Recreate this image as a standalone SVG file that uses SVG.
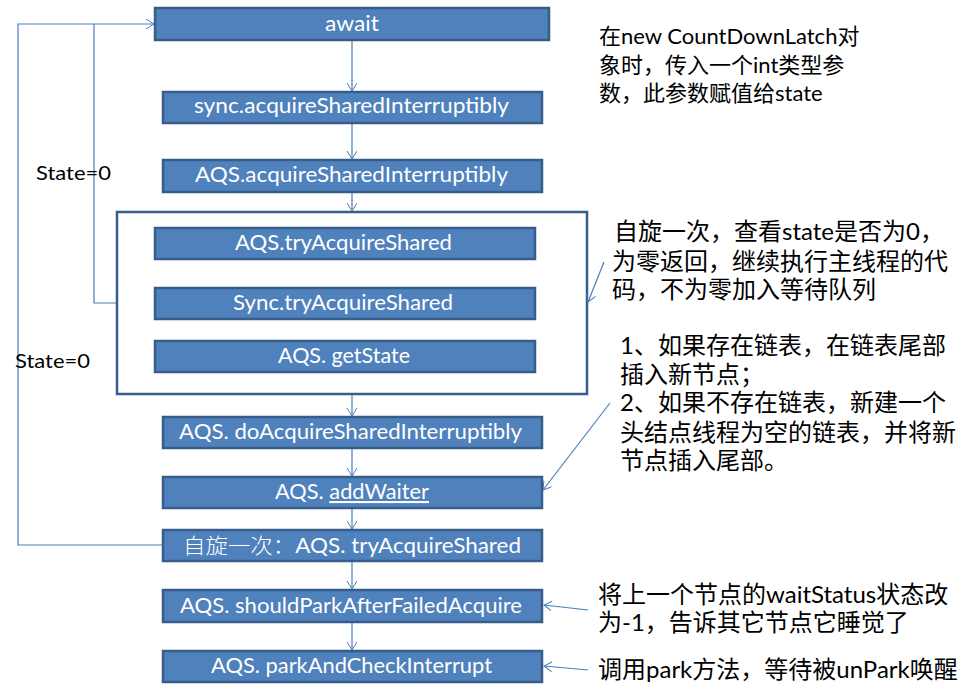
<svg xmlns="http://www.w3.org/2000/svg" width="970" height="691" viewBox="0 0 970 691">
<defs>
<marker id="arr" markerUnits="userSpaceOnUse" markerWidth="12" markerHeight="12" refX="8" refY="5" orient="auto">
<path d="M0,0 L8,5 L0,10" fill="none" stroke="#4a7ebb" stroke-width="1"/>
</marker>
</defs>
<style>
.box{fill:#4f81bd;stroke:#385d8a;stroke-width:2.5}
.frame{fill:#ffffff;stroke:#385d8a;stroke-width:2.5}
.bt{font-family:"Lato","Noto Sans CJK SC",sans-serif;font-size:21px;fill:#ffffff}
.cjkw{font-family:"Noto Sans CJK SC",sans-serif;font-weight:300}
.lbl{font-family:"Lato","Noto Sans CJK SC",sans-serif;font-size:20px;fill:#000000}
.note{font-family:"Lato","Noto Sans CJK SC",sans-serif;font-size:24px;fill:#000000}
.note1{font-family:"Lato","Noto Sans CJK SC",sans-serif;font-size:22px;fill:#000000}
.con{fill:none;stroke:#4a7ebb;stroke-width:1.2}
</style>
<rect width="970" height="691" fill="#ffffff"/>

<g id="frame">
<rect class="frame" x="117" y="212" width="470" height="182"/>
</g>

<g id="connectors">
<line class="con" x1="352" y1="41" x2="352" y2="91" marker-end="url(#arr)"/>
<line class="con" x1="352" y1="124" x2="352" y2="159" marker-end="url(#arr)"/>
<line class="con" x1="352" y1="193" x2="352" y2="211" marker-end="url(#arr)"/>
<line class="con" x1="352" y1="395" x2="352" y2="416" marker-end="url(#arr)"/>
<line class="con" x1="352" y1="449" x2="352" y2="476" marker-end="url(#arr)"/>
<line class="con" x1="352" y1="509" x2="352" y2="529" marker-end="url(#arr)"/>
<line class="con" x1="352" y1="562" x2="352" y2="589" marker-end="url(#arr)"/>
<line class="con" x1="352" y1="623" x2="352" y2="650" marker-end="url(#arr)"/>
<polyline class="con" points="162,545 18,545 18,24 154,24" marker-end="url(#arr)"/>
<polyline class="con" points="116,303 94,303 94,24"/>
<line class="con" x1="604" y1="262" x2="588" y2="302" marker-end="url(#arr)"/>
<line class="con" x1="610" y1="403" x2="543" y2="490" marker-end="url(#arr)"/>
<line class="con" x1="588" y1="610" x2="544" y2="605" marker-end="url(#arr)"/>
<line class="con" x1="588" y1="670" x2="544" y2="666" marker-end="url(#arr)"/>
</g>

<g id="n-await">
<rect class="box" x="155" y="8" width="394" height="32"/>
<text class="bt" x="325" y="31" textLength="54" lengthAdjust="spacingAndGlyphs">await</text>
</g>
<g id="n-sync-acquire">
<rect class="box" x="163" y="92" width="379" height="31"/>
<text class="bt" x="194" y="113" textLength="315" lengthAdjust="spacingAndGlyphs">sync.acquireSharedInterruptibly</text>
</g>
<g id="n-aqs-acquire">
<rect class="box" x="163" y="160" width="379" height="32"/>
<text class="bt" x="195" y="182" textLength="313" lengthAdjust="spacingAndGlyphs">AQS.acquireSharedInterruptibly</text>
</g>
<g id="n-aqs-try">
<rect class="box" x="155" y="228" width="380" height="31"/>
<text class="bt" x="235" y="250" textLength="217" lengthAdjust="spacingAndGlyphs">AQS.tryAcquireShared</text>
</g>
<g id="n-sync-try">
<rect class="box" x="155" y="288" width="380" height="31"/>
<text class="bt" x="233" y="310" textLength="220" lengthAdjust="spacingAndGlyphs">Sync.tryAcquireShared</text>
</g>
<g id="n-getstate">
<rect class="box" x="155" y="341" width="380" height="31"/>
<text class="bt" x="278" y="363" textLength="132" lengthAdjust="spacingAndGlyphs">AQS. getState</text>
</g>
<g id="n-doacquire">
<rect class="box" x="163" y="417" width="379" height="31"/>
<text class="bt" x="179" y="439" textLength="343" lengthAdjust="spacingAndGlyphs">AQS. doAcquireSharedInterruptibly</text>
</g>
<g id="n-addwaiter">
<rect class="box" x="163" y="477" width="379" height="31"/>
<text class="bt" x="275" y="499" textLength="154" lengthAdjust="spacingAndGlyphs">AQS. <tspan text-decoration="underline">addWaiter</tspan></text>
</g>
<g id="n-spin">
<rect class="box" x="163" y="530" width="379" height="31"/>
<text class="bt" x="183" y="553" textLength="338" lengthAdjust="spacingAndGlyphs"><tspan class="cjkw">自旋一次：</tspan>AQS. tryAcquireShared</text>
</g>
<g id="n-shouldpark">
<rect class="box" x="163" y="590" width="379" height="32"/>
<text class="bt" x="180" y="613" textLength="342" lengthAdjust="spacingAndGlyphs">AQS. shouldParkAfterFailedAcquire</text>
</g>
<g id="n-park">
<rect class="box" x="163" y="651" width="379" height="31"/>
<text class="bt" x="211" y="673" textLength="281" lengthAdjust="spacingAndGlyphs">AQS. parkAndCheckInterrupt</text>
</g>

<g id="labels">
<text class="lbl" x="36" y="180" textLength="75" lengthAdjust="spacingAndGlyphs">State=0</text>
<text class="lbl" x="15" y="368" textLength="75" lengthAdjust="spacingAndGlyphs">State=0</text>
</g>

<g id="note-init">
<text class="note1" x="599" y="44">在new CountDownLatch对</text>
<text class="note1" x="599" y="73">象时，传入一个int类型参</text>
<text class="note1" x="599" y="101">数，此参数赋值给state</text>
</g>
<g id="note-spin">
<text class="note" x="614" y="240">自旋一次，查看state是否为0，</text>
<text class="note" x="612" y="270">为零返回，继续执行主线程的代</text>
<text class="note" x="612" y="298">码，不为零加入等待队列</text>
</g>
<g id="note-addwaiter">
<text class="note" x="620" y="354">1、如果存在链表，在链表尾部</text>
<text class="note" x="620" y="383">插入新节点；</text>
<text class="note" x="620" y="411">2、如果不存在链表，新建一个</text>
<text class="note" x="620" y="441">头结点线程为空的链表，并将新</text>
<text class="note" x="620" y="469">节点插入尾部。</text>
</g>
<g id="note-should">
<text class="note" x="598" y="603">将上一个节点的waitStatus状态改</text>
<text class="note" x="598" y="631">为-1，告诉其它节点它睡觉了</text>
</g>
<g id="note-park">
<text class="note" x="598" y="678">调用park方法，等待被unPark唤醒</text>
</g>
</svg>
